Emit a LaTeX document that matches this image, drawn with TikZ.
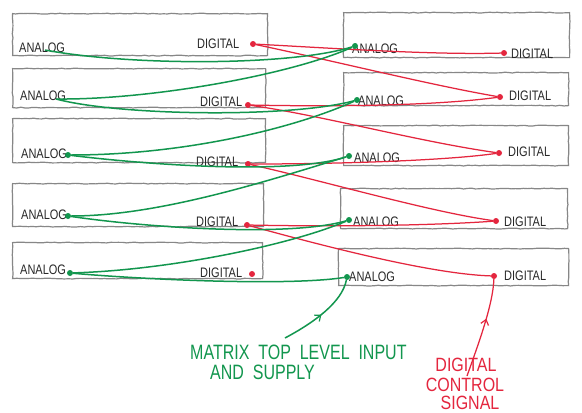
\documentclass[tikz,border=0pt]{standalone}
\usepackage{fontspec}
\setmainfont{Liberation Sans}
\usetikzlibrary{decorations.pathmorphing,decorations.markings,arrows.meta}
\definecolor{gcol}{RGB}{18,150,78}
\definecolor{rcol}{RGB}{228,38,62}
\definecolor{pencil}{RGB}{135,135,135}
\definecolor{ink}{RGB}{40,40,40}
\begin{document}
\begin{tikzpicture}[x=1pt,y=-1pt,
  box/.style={draw=pencil, line width=1.2pt, decorate,
    decoration={random steps, segment length=4pt, amplitude=0.4pt},
    anchor=north west, inner sep=0pt},
  lbl/.style={anchor=west, inner sep=0pt, text=ink, font=\fontsize{11}{13}\selectfont},
  gdot/.style={circle, fill=gcol, inner sep=0pt, minimum size=6pt},
  rdot/.style={circle, fill=rcol, inner sep=0pt, minimum size=6pt},
  gline/.style={draw=gcol, line width=1.5pt},
  rline/.style={draw=rcol, line width=1.25pt},
  bigg/.style={text=gcol, inner sep=0pt, anchor=west, font=\fontsize{16}{18}\selectfont},
  bigr/.style={text=rcol, inner sep=0pt, font=\fontsize{16}{18}\selectfont},
  midarrow/.style={postaction={decorate, decoration={markings,
    mark=at position #1 with {\arrow{Straight Barb[length=5pt,width=8pt,line width=1.2pt]}}}}}
]
\pgfmathsetseed{7}
\useasboundingbox (0,0) rectangle (582,413);
\fill[white] (0,0) rectangle (582,413);

% left boxes
\node[box, minimum width=255pt, minimum height=42pt] (L1) at (12,13) {};
\node[box, minimum width=253pt, minimum height=39pt] (L2) at (12,68) {};
\node[box, minimum width=253pt, minimum height=44pt] (L3) at (12,118) {};
\node[box, minimum width=251pt, minimum height=43pt] (L4) at (12,183) {};
\node[box, minimum width=250pt, minimum height=36pt] (L5) at (12,242) {};
% right boxes
\node[box, minimum width=226pt, minimum height=45pt] (R1) at (343,12) {};
\node[box, minimum width=225pt, minimum height=33pt] (R2) at (343,72) {};
\node[box, minimum width=225pt, minimum height=40pt] (R3) at (343,125) {};
\node[box, minimum width=227pt, minimum height=40pt] (R4) at (340,188) {};
\node[box, minimum width=230pt, minimum height=37pt] (R5) at (338,248) {};

% left labels
\node[lbl] (LA1) at (19,48) {\scalebox{1}[1.25]{ANALOG}};
\node[lbl] (LA2) at (20,96) {\scalebox{1}[1.25]{ANALOG}};
\node[lbl] (LA3) at (21,154) {\scalebox{1}[1.25]{ANALOG}};
\node[lbl] (LA4) at (21,215) {\scalebox{1}[1.25]{ANALOG}};
\node[lbl] (LA5) at (20,270) {\scalebox{1}[1.25]{ANALOG}};
\node[lbl] (LD1) at (197,44) {\scalebox{1}[1.25]{DIGITAL}};
\node[lbl] (LD2) at (200,102) {\scalebox{1}[1.25]{DIGITAL}};
\node[lbl] (LD3) at (196,162) {\scalebox{1}[1.25]{DIGITAL}};
\node[lbl] (LD4) at (196,222) {\scalebox{1}[1.25]{DIGITAL}};
\node[lbl] (LD5) at (200,273) {\scalebox{1}[1.25]{DIGITAL}};
% right labels
\node[lbl] (RA1) at (352,49) {\scalebox{1}[1.25]{ANALOG}};
\node[lbl] (RA2) at (358,101) {\scalebox{1}[1.25]{ANALOG}};
\node[lbl] (RA3) at (354,158) {\scalebox{1}[1.25]{ANALOG}};
\node[lbl] (RA4) at (353,222) {\scalebox{1}[1.25]{ANALOG}};
\node[lbl] (RA5) at (349,277) {\scalebox{1}[1.25]{ANALOG}};
\node[lbl] (RD1) at (511,54) {\scalebox{1}[1.25]{DIGITAL}};
\node[lbl] (RD2) at (509,96) {\scalebox{1}[1.25]{DIGITAL}};
\node[lbl] (RD3) at (508,152) {\scalebox{1}[1.25]{DIGITAL}};
\node[lbl] (RD4) at (504,222) {\scalebox{1}[1.25]{DIGITAL}};
\node[lbl] (RD5) at (504,276) {\scalebox{1}[1.25]{DIGITAL}};

% connection points
\coordinate (a1) at (45,50);
\coordinate (a2) at (56,99);
\node[gdot] (a3) at (68,155) {};
\node[gdot] (a4) at (68,216) {};
\node[gdot] (a5) at (70,273) {};
\node[rdot] (d1) at (253,44) {};
\node[rdot] (d2) at (248,105) {};
\node[rdot] (d3) at (248,164) {};
\node[rdot] (d4) at (247,225) {};
\node[rdot] (d5) at (252,274) {};
\node[gdot] (ra1) at (355,46) {};
\node[gdot] (ra2) at (357,100) {};
\node[gdot] (ra3) at (349,156) {};
\node[gdot] (ra4) at (349,220) {};
\node[gdot] (ra5) at (347,277) {};
\node[rdot] (rd1) at (504,53) {};
\node[rdot] (rd2) at (500,97) {};
\node[rdot] (rd3) at (499,153) {};
\node[rdot] (rd4) at (496,221) {};
\node[rdot] (rd5) at (494,276) {};

% red connectors
\draw[rline] (d1) .. controls (330,48) and (430,55) .. (rd1);
\draw[rline] (d1) .. controls (330,60) and (430,85) .. (rd2);
\draw[rline] (d2) .. controls (350,107) and (440,105) .. (rd2);
\draw[rline] (d2) .. controls (320,115) and (420,142) .. (rd3);
\draw[rline] (d3) .. controls (350,164) and (450,160) .. (rd3);
\draw[rline] (d3) .. controls (320,180) and (430,212) .. (rd4);
\draw[rline] (d4) .. controls (350,227) and (440,225) .. (rd4);
\draw[rline] (d4) .. controls (320,245) and (430,274) .. (rd5);

% green connectors
\draw[gline] (a1) .. controls (130,66) and (290,66) .. (ra1);
\draw[gline] (a2) .. controls (150,100) and (290,75) .. (ra1);
\draw[gline] (a2) .. controls (120,116) and (290,118) .. (ra2);
\draw[gline] (a3) .. controls (180,155) and (290,130) .. (ra2);
\draw[gline] (a3) .. controls (150,165) and (290,175) .. (ra3);
\draw[gline] (a4) .. controls (160,216) and (270,180) .. (ra3);
\draw[gline] (a4) .. controls (150,228) and (290,237) .. (ra4);
\draw[gline] (a5) .. controls (170,270) and (290,245) .. (ra4);
\draw[gline] (a5) .. controls (150,280) and (290,286) .. (ra5);

% external labels
\node[bigg] (mt1) at (190,352) {\scalebox{1}[1.3]{MATRIX\ \ TOP\ \ LEVEL\ \ INPUT}};
\node[bigg] (mt2) at (210,372) {\scalebox{1}[1.3]{AND\ \ SUPPLY}};
\coordinate (gs) at (285,338);
\draw[gline, midarrow=0.5] (gs) .. controls (315,322) and (342,302) .. (ra5);

\node[bigr] (dc1) at (466,365) {\scalebox{1}[1.2]{DIGITAL}};
\node[bigr] (dc2) at (465,385) {\scalebox{1}[1.2]{CONTROL}};
\node[bigr] (dc3) at (470,403) {\scalebox{1}[1.2]{SIGNAL}};
\coordinate (rs) at (467,376);
\draw[rline, midarrow=0.6] (rs) .. controls (478,345) and (493,305) .. (rd5);
\end{tikzpicture}
\end{document}
